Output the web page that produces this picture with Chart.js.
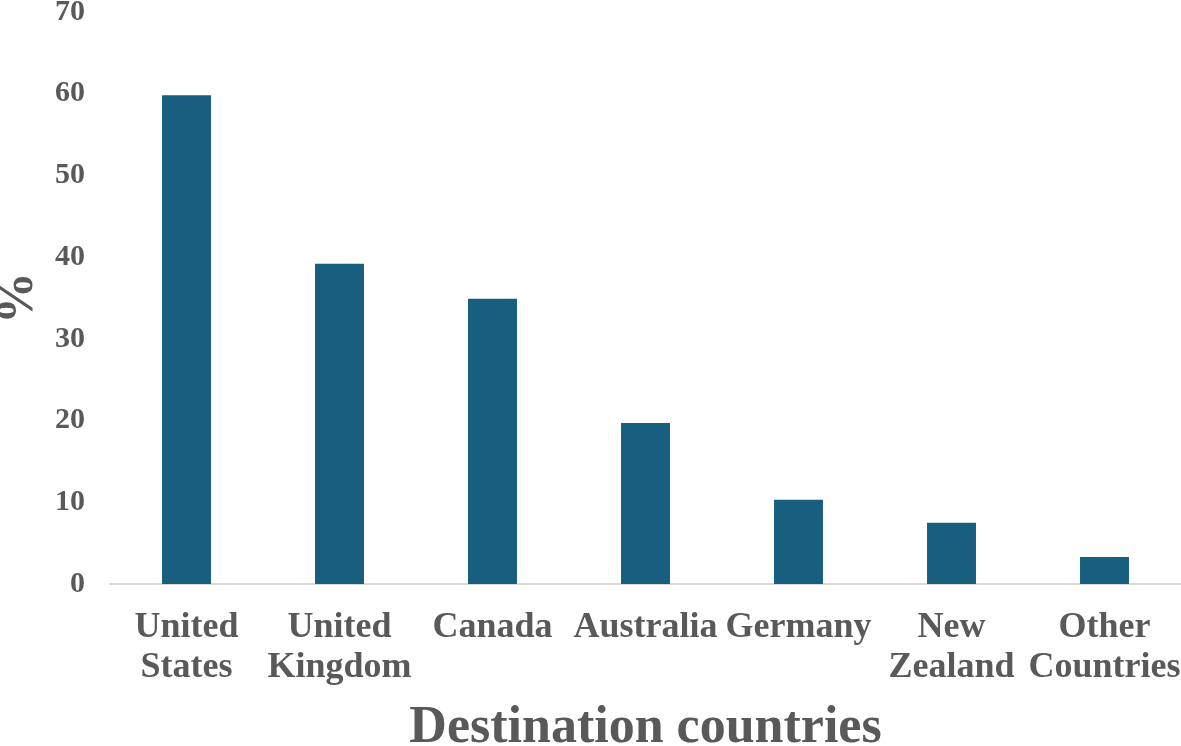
<!DOCTYPE html>
<html>
<head>
<meta charset="utf-8">
<script src="https://cdn.jsdelivr.net/npm/chart.js@4"></script>
<style>
  html, body { margin: 0; padding: 0; background: #fff; }
  #wrap { width: 1181px; height: 746px; }
</style>
</head>
<body>
<div id="wrap"><canvas id="destChart" width="1181" height="746"></canvas></div>
<script>
const countries = [
    ['United', 'States'],
    ['United', 'Kingdom'],
    'Canada',
    'Australia',
    'Germany',
    ['New', 'Zealand'],
    ['Other', 'Countries']
];
const shares = [59.8, 39.2, 34.9, 19.7, 10.3, 7.5, 3.3];
const yTicks = [0, 10, 20, 30, 40, 50, 60, 70];

const grey = '#595959';
const serif = "'Liberation Serif', 'Times New Roman', serif";

const ctx = document.getElementById('destChart').getContext('2d');
new Chart(ctx, {
    type: 'bar',
    data: {
        labels: countries,
        datasets: [{
            label: '%',
            data: shares,
            backgroundColor: '#175E7F',
            borderWidth: 0,
            barPercentage: 0.32,
            categoryPercentage: 1
        }]
    },
    options: {
        responsive: false,
        animation: false,
        layout: { padding: { top: 12, right: 0, left: 0, bottom: 0 } },
        plugins: {
            legend: { display: false },
            tooltip: { enabled: false }
        },
        scales: {
            x: {
                grid: { display: false, drawTicks: false },
                border: { display: true, color: '#d9d9d9', width: 2 },
                ticks: {
                    color: grey,
                    font: { family: serif, size: 36, weight: 'bold', lineHeight: 1.11 },
                    padding: 24,
                    maxRotation: 0,
                    autoSkip: false
                },
                title: {
                    display: true,
                    text: 'Destination countries',
                    color: grey,
                    font: { family: serif, size: 52, weight: 'bold', lineHeight: 1 },
                    padding: { top: 0, bottom: -9 }
                },
                afterFit: function(scale) {
                    scale.height = 162;
                    scale.paddingLeft = 0;
                    scale.paddingRight = 0;
                }
            },
            y: {
                min: 0,
                max: 70,
                afterBuildTicks: function(scale) {
                    scale.ticks = yTicks.map(v => ({ value: v }));
                },
                grid: { display: false, drawTicks: false },
                border: { display: false },
                ticks: {
                    color: grey,
                    font: { family: serif, size: 30, weight: 'bold' },
                    padding: 25
                },
                title: {
                    display: true,
                    text: '%',
                    color: grey,
                    font: { family: serif, size: 52, weight: 'bold', lineHeight: 1 },
                    padding: { top: -7, bottom: 0 }
                },
                afterFit: function(scale) {
                    scale.width = 110;
                    scale.paddingTop = 0;
                    scale.paddingBottom = 0;
                }
            }
        }
    }
});
</script>
</body>
</html>
